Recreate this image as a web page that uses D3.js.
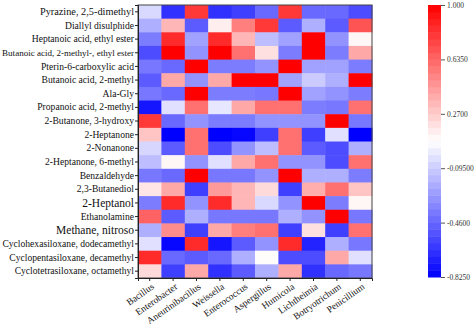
<!DOCTYPE html>
<html>
<head>
<meta charset="utf-8">
<script src="https://cdn.jsdelivr.net/npm/d3@7"></script>
<style>
  body { margin: 0; background: #fff; }
</style>
</head>
<body>
<div id="chart"></div>
<script>
const width = 474, height = 328;

const compounds = [
    "Pyrazine, 2,5-dimethyl", "Diallyl disulphide", "Heptanoic acid, ethyl ester",
    "Butanoic acid, 2-methyl-, ethyl ester", "Pterin-6-carboxylic acid", "Butanoic acid, 2-methyl",
    "Ala-Gly", "Propanoic acid, 2-methyl", "2-Butanone, 3-hydroxy", "2-Heptanone", "2-Nonanone",
    "2-Heptanone, 6-methyl", "Benzaldehyde", "2,3-Butanediol", "2-Heptanol", "Ethanolamine",
    "Methane, nitroso", "Cyclohexasiloxane, dodecamethyl", "Cyclopentasiloxane, decamethyl",
    "Cyclotetrasiloxane, octamethyl"
];

const microbes = ["Bacillus", "Enterobacter", "Aneurinibacillus", "Weissella", "Enterococcus",
    "Aspergillus", "Humicola", "Lichtheimia", "Botryotrichum", "Penicillium"];

// correlation values, one row per compound, columns in microbe order
const values = [
    [-0.05, -0.65, 0.80, -0.65, -0.60, -0.45, 0.80, -0.45, -0.45, -0.55],
    [-0.20, 0.35, -0.50, 0.15, 0.55, 0.80, -0.50, -0.20, -0.50, 0.70],
    [-0.38, 0.85, -0.25, 0.85, 0.35, -0.15, -0.25, 1.00, -0.30, 0.12],
    [-0.55, 1.00, -0.30, 1.00, 0.60, 0.20, -0.38, 1.00, -0.38, 0.40],
    [-0.40, -0.45, 1.00, -0.38, -0.38, -0.30, 1.00, -0.25, -0.25, -0.38],
    [-0.50, 0.40, -0.30, 0.40, 1.00, 1.00, -0.25, -0.10, -0.20, 1.00],
    [-0.40, -0.45, 1.00, -0.38, -0.38, -0.40, 1.00, -0.25, -0.30, -0.38],
    [-0.75, -0.02, 0.60, 0.00, 0.40, 0.60, 0.60, -0.38, -0.40, 0.60],
    [0.80, -0.45, -0.30, -0.38, -0.38, -0.30, -0.30, -0.30, 1.00, -0.40],
    [0.30, -0.825, 0.60, -0.825, -0.80, -0.60, 0.60, -0.60, -0.02, -0.825],
    [-0.06, -0.50, 0.60, -0.55, -0.30, -0.15, 0.60, -0.50, -0.55, -0.20],
    [-0.15, 0.12, -0.30, -0.02, 0.40, 0.60, -0.30, -0.30, -0.55, 0.60],
    [-0.40, -0.45, 1.00, -0.40, -0.40, -0.30, 1.00, -0.20, -0.20, -0.38],
    [0.18, 0.40, -0.60, 0.45, 0.35, 0.22, -0.60, 0.38, 0.60, 0.30],
    [-0.38, 0.85, -0.30, 0.85, 0.35, -0.05, -0.30, 1.00, -0.38, 0.12],
    [0.65, -0.50, -0.20, -0.40, -0.40, -0.40, -0.20, -0.30, 1.00, -0.40],
    [-0.20, 0.50, -0.60, 0.40, 0.55, 0.60, -0.60, 0.20, -0.60, 0.60],
    [-0.02, -0.80, 0.85, -0.75, -0.50, -0.30, 0.85, -0.70, -0.20, -0.40],
    [0.85, -0.45, -0.50, -0.45, -0.20, 0.10, -0.55, -0.55, 0.40, -0.02],
    [0.22, -0.60, 0.40, -0.65, -0.50, -0.20, 0.40, -0.65, -0.45, -0.40]
];

const colorTicks = [1.000, 0.6350, 0.2700, -0.09500, -0.4600, -0.8250];
const colorTickLabels = ["1.000", "0.6350", "0.2700", "-0.09500", "-0.4600", "-0.8250"];
const bigLabels = ["2-Heptanol", "Methane, nitroso"];

const vmin = -0.825, vmax = 1.0;
const color = d3.scaleLinear()
    .domain([vmin, (vmin + vmax) / 2, vmax])
    .range(["#0000ff", "#ffffff", "#ff0000"]);

const plotLeft = 138, plotRight = 372, plotTop = 5, plotBottom = 278;
const serif = "'Liberation Serif', 'Times New Roman', serif";

const svg = d3.select("#chart").append("svg")
    .attr("width", width)
    .attr("height", height);

const x = d3.scaleBand().domain(microbes).range([plotLeft, plotRight]);
const y = d3.scaleBand().domain(compounds).range([plotTop, plotBottom]);

const cells = [];
values.forEach((row, i) => row.forEach((v, j) => cells.push({ c: compounds[i], m: microbes[j], v: v })));

svg.append("g")
    .selectAll("rect")
    .data(cells)
    .enter().append("rect")
    .attr("x", d => x(d.m))
    .attr("y", d => y(d.c))
    .attr("width", x.bandwidth() + 0.5)
    .attr("height", y.bandwidth() + 0.5)
    .attr("fill", d => color(d.v));

svg.append("rect")
    .attr("x", plotLeft).attr("y", plotTop)
    .attr("width", plotRight - plotLeft).attr("height", plotBottom - plotTop)
    .attr("fill", "none").attr("stroke", "#444").attr("stroke-width", 1);

const yAxis = svg.append("g")
    .attr("transform", `translate(${plotLeft},0)`)
    .call(d3.axisLeft(y).tickSize(3).tickPadding(1));
yAxis.select(".domain").attr("stroke", "#222");
yAxis.selectAll(".tick line").attr("stroke", "#222");
yAxis.selectAll("text")
    .style("font-family", serif)
    .style("font-size", d => bigLabels.includes(d) ? "11.5px" : (d === compounds[0] ? "10.3px" : "9.6px"))
    .attr("fill", "#111")
    .each(function () {
        // shrink a label that would run past the left edge
        const w = this.getComputedTextLength();
        const room = plotLeft - 6;
        if (w > room) {
            const fs = parseFloat(this.style.fontSize);
            d3.select(this).style("font-size", (fs * room / w).toFixed(2) + "px");
        }
    });

const xAxis = svg.append("g")
    .attr("transform", `translate(0,${plotBottom})`)
    .call(d3.axisBottom(x).tickSize(3));
xAxis.select(".domain").attr("stroke", "#222");
xAxis.selectAll(".tick line").attr("stroke", "#222");
xAxis.selectAll("text")
    .style("font-family", serif)
    .style("font-size", "9.5px")
    .attr("fill", "#111")
    .attr("text-anchor", "end")
    .attr("dy", null)
    .attr("y", 0)
    .attr("transform", "translate(5,10) rotate(-35)");

// colour bar
const cbX = 428, cbW = 13;
const cbY = d3.scaleLinear().domain([vmin, vmax]).range([plotBottom - 1, plotTop]);
const steps = 40;
const bands = d3.range(steps).map(i => vmin + (i + 0.5) * (vmax - vmin) / steps);
const stepH = (cbY(vmin) - cbY(vmax)) / steps;

svg.append("g")
    .selectAll("rect")
    .data(bands)
    .enter().append("rect")
    .attr("x", cbX)
    .attr("y", d => cbY(d) - stepH / 2)
    .attr("width", cbW)
    .attr("height", stepH + 0.5)
    .attr("fill", d => color(d));

const cbAxis = svg.append("g")
    .attr("transform", `translate(${cbX + cbW},0)`)
    .call(d3.axisRight(cbY).tickValues(colorTicks).tickSize(4).tickPadding(2)
        .tickFormat((d, i) => colorTickLabels[i]));
cbAxis.select(".domain").remove();
cbAxis.selectAll(".tick line").attr("stroke", "#555");
cbAxis.selectAll("text")
    .style("font-family", serif)
    .style("font-size", "7.5px")
    .attr("fill", "#333");
</script>
</body>
</html>
